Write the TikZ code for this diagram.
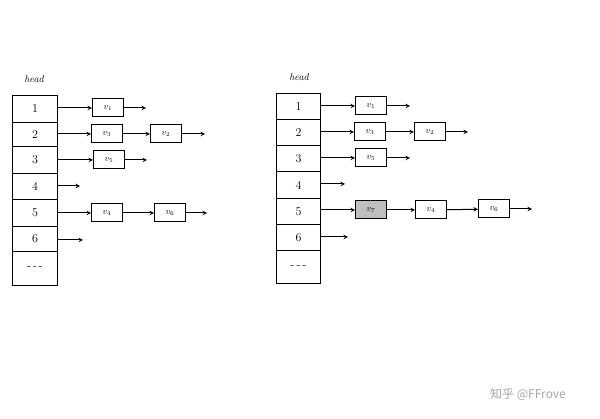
\documentclass[tikz,border=0pt]{standalone}
\usepackage{fontspec}
\newfontfamily\cjk{Noto Sans CJK SC}
\newcommand{\mydots}{-\,-\,-}
\begin{document}
\begin{tikzpicture}[x=1pt,y=-1pt,line width=1pt,
 cell/.style={draw,minimum width=45pt,anchor=north west,inner sep=0pt,font=\large},
 vn/.style={draw,minimum width=31pt,minimum height=18pt,inner sep=0pt,font=\small\itshape},
 ar/.style={->,>=stealth}]
\useasboundingbox (0,0) rectangle (600,419);
% left array
\node[font=\itshape] (hl) at (34,79) {head};
\foreach \i/\t/\b/\l in {1/95/122/1,2/122/146/2,3/146/173/3,4/173/199/4,5/199/226/5,6/226/251/6,7/251/285/\mydots}{
 \node[cell,minimum height={\b-\t}] (L\i) at (12,\t) {\l};}
\node[vn] (a1) at (108,108) {$v_1$};
\node[vn] (a2) at (107,134) {$v_3$};
\node[vn] (a3) at (166,134) {$v_2$};
\node[vn] (a4) at (109,160) {$v_5$};
\node[vn] (a5) at (107,213) {$v_4$};
\node[vn] (a6) at (170,213) {$v_6$};
\coordinate (e1) at (146,108); \coordinate (e2) at (205,134);
\coordinate (e3) at (147,160); \coordinate (e4) at (80,186);
\coordinate (e5) at (207,213); \coordinate (e6) at (83,240);
\draw[ar] (L1.east |- a1) -- (a1); \draw[ar] (a1) -- (e1);
\draw[ar] (L2.east |- a2) -- (a2); \draw[ar] (a2) -- (a3); \draw[ar] (a3) -- (e2);
\draw[ar] (L3.east |- a4) -- (a4); \draw[ar] (a4) -- (e3);
\draw[ar] (L4.east |- e4) -- (e4);
\draw[ar] (L5.east |- a5) -- (a5); \draw[ar] (a5) -- (a6); \draw[ar] (a6) -- (e5);
\draw[ar] (L6.east |- e6) -- (e6);
% right array
\node[font=\itshape] (hr) at (299,77) {head};
\foreach \i/\t/\b/\l in {1/93/119/1,2/119/145/2,3/145/171/3,4/171/198/4,5/198/224/5,6/224/250/6,7/250/283/\mydots}{
 \node[cell,minimum width=44pt,minimum height={\b-\t}] (R\i) at (276,\t) {\l};}
\node[vn] (b1) at (371,106) {$v_1$};
\node[vn] (b2) at (370,132) {$v_3$};
\node[vn] (b3) at (430,132) {$v_2$};
\node[vn] (b4) at (371,158) {$v_5$};
\node[vn,fill=gray!50] (b5) at (371,210) {$v_7$};
\node[vn] (b6) at (431,210) {$v_4$};
\node[vn] (b7) at (494,209) {$v_6$};
\coordinate (f1) at (410,106); \coordinate (f2) at (468,132);
\coordinate (f3) at (410,158); \coordinate (f4) at (345,184);
\coordinate (f5) at (532,209); \coordinate (f6) at (348,237);
\draw[ar] (R1.east |- b1) -- (b1); \draw[ar] (b1) -- (f1);
\draw[ar] (R2.east |- b2) -- (b2); \draw[ar] (b2) -- (b3); \draw[ar] (b3) -- (f2);
\draw[ar] (R3.east |- b4) -- (b4); \draw[ar] (b4) -- (f3);
\draw[ar] (R4.east |- f4) -- (f4);
\draw[ar] (R5.east |- b5) -- (b5); \draw[ar] (b5) -- (b6); \draw[ar] (b6) -- (b7); \draw[ar] (b7) -- (f5);
\draw[ar] (R6.east |- f6) -- (f6);
\node[font=\cjk\large,text=gray!70] (wm) at (528,394) {知乎 @FFrove};
\end{tikzpicture}
\end{document}
